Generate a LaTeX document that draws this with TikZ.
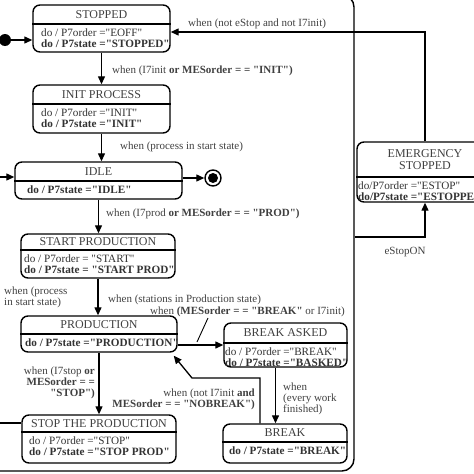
\documentclass[tikz,border=0pt]{standalone}
\usepackage{fontspec}
\setmainfont{Liberation Serif}[Ligatures=TeXOff]
\usetikzlibrary{arrows.meta}

\begin{document}
\begin{tikzpicture}[x=1pt,y=-1pt]
\useasboundingbox (0,0) rectangle (474,474);
\clip (0,0) rectangle (474,474);
   \tikzset{StateStyle/.style = {draw, line width=1.4pt, rounded corners=7pt, inner sep=0pt},
            TitleStyle/.style = {font=\fontsize{12}{11.5}\selectfont, text=black!75, inner sep=0pt, align=center},
            DoStyle/.style = {font=\fontsize{11.2}{11}\selectfont, text=black!80, inner sep=0pt, align=left, anchor=north west},
            EdgeStyle/.style = {line width=1.3pt, -{Triangle[length=8pt,width=7pt]}},
            LabelStyle/.style = {font=\fontsize{11}{11}\selectfont, text=black!75, inner sep=0pt}}
% name, left, top, right, bottom, line, title, actions, indent
\def\State#1#2#3#4#5#6#7#8#9{%
   \node[StateStyle, minimum width={#4-#2}, minimum height={#5-#3}] (#1) at ({(#2+#4)/2},{(#3+#5)/2}) {};
   \draw[line width=1.4pt] (#1.west |- 0,#6) -- (#1.east |- 0,#6);
   \node[TitleStyle] (#1T) at ({(#2+#4)/2},{(#3+#6)/2}) {#7};
   \node[DoStyle] (#1D) at (#2+#9,#6+5) {#8};
}

   \node[StateStyle, rounded corners=12pt, minimum width=380, minimum height=476] (operating) at (164,233) {};

   \State{stopped}{33}{5}{170}{52}{24}{STOPPED}{do / P7order ="EOFF"\\\textbf{do / P7state ="STOPPED"}}{8}
   \State{initP}{33}{85}{170}{133}{104}{INIT PROCESS}{do / P7order ="INIT"\\\textbf{do / P7state ="INIT"}}{8}
   \State{idle}{15}{162}{182}{199}{181}{IDLE}{\textbf{do / P7state ="IDLE"}}{12}
   \State{startP}{21}{234}{175}{278}{250}{START PRODUCTION}{do / P7order = "START"\\\textbf{do / P7state = "START PROD"}}{3}
   \State{prod}{21}{316}{177}{352}{334}{PRODUCTION}{\textbf{do / P7state ="PRODUCTION"}}{4}
   \State{breakA}{224}{323}{347}{367}{343}{BREAK ASKED}{do / P7order ="BREAK"\\\textbf{do / P7state ="BASKED"}}{1}
   \State{stopP}{22}{415}{176}{463}{432}{STOP THE PRODUCTION}{do / P7order ="STOP"\\\textbf{do / P7state ="STOP PROD"}}{7}
   \State{brk}{223}{424}{347}{463}{442}{BREAK}{\textbf{do / P7state ="BREAK"}}{6}
   \State{estop}{357}{142}{493}{202}{177}{EMERGENCY\\STOPPED}{do/P7order ="ESTOP"\\\textbf{do/P7state ="ESTOPPED"}}{1}

   \node[circle, fill, minimum size=12pt, inner sep=0pt] (start) at (5,40) {};
   \node[circle, draw, line width=1.4pt, minimum size=16pt, inner sep=0pt] (final) at (213,178) {};
   \node[circle, fill, minimum size=10pt, inner sep=0pt] (finalIn) at (final) {};

	\draw[EdgeStyle] (start) -- (start -| stopped.west);
	\draw[EdgeStyle] (stopped.south) -- (initP.north);
	\draw[EdgeStyle] (initP.south) -- (initP.south |- idle.north);
	\draw[EdgeStyle] (idle.east |- final) -- (final);
	\draw[EdgeStyle] (idle.south) -- (idle.south |- startP.north);
	\draw[EdgeStyle] (startP.south) -- (startP.south |- prod.north);
	\draw[EdgeStyle] (prod.south) -- (prod.south |- stopP.north);
	\draw[EdgeStyle] (prod.east |- breakA) -- (breakA.west);
	\draw[EdgeStyle] ([xshift=-10pt]breakA.south) -- ([xshift=-10pt]breakA.south |- brk.north);
	\coordinate (back) at (192,378);
	\draw[EdgeStyle] ([xshift=-25pt]brk.north) |- (back) -- ([shift={(-4,3)}]prod.south east);
	\draw[EdgeStyle] (stopP.west |- 0,423) -- (-15,423) |- (idle.west |- 0,177);
	\draw[EdgeStyle] (estop.north) |- (stopped.east |- 0,32);
	\draw[EdgeStyle] (operating.east |- 0,237) -| (estop.south);
	\draw[line width=0.9pt] (197,342) -- (208,318);

	\node[LabelStyle, anchor=west] (l1) at (188,24) {when (not eStop and not I7init)};
	\node[LabelStyle, anchor=west] (l2) at (112,71) {when (I7init \textbf{or MESorder = = "INIT")}};
	\node[LabelStyle, anchor=west] (l3) at (120,147) {when (process in start state)};
	\node[LabelStyle, anchor=west] (l4) at (106,214) {when (I7prod \textbf{or MESorder = = "PROD")}};
	\node[LabelStyle, anchor=west, align=left] (l5) at (4,297) {when (process\\in start state)};
	\node[LabelStyle, anchor=west] (l6) at (108,300) {when (stations in Production state)};
	\node[LabelStyle, anchor=west] (l7) at (150,312) {when \textbf{(MESorder = = "BREAK"} or I7init)};
	\node[LabelStyle, anchor=east, align=right] (l8) at (95,383) {when (I7stop \textbf{or}\\\textbf{MESorder = =}\\\textbf{"STOP")}};
	\node[LabelStyle, anchor=east, align=right] (l9) at (255,399) {when (not I7init \textbf{and}\\\textbf{MESorder = = "NOBREAK")}};
	\node[LabelStyle, anchor=west, align=left] (l10) at (283,399) {when\\(every work\\finished)};
	\node[LabelStyle] (l11) at (405,252) {eStopON};
\end{tikzpicture}
\end{document}
